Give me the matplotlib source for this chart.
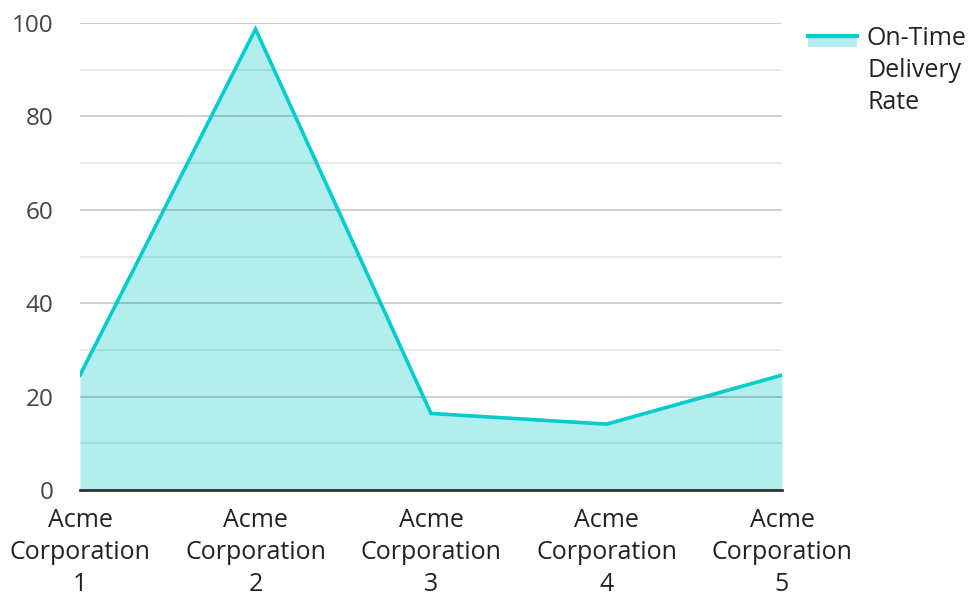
import matplotlib.pyplot as plt
from matplotlib.lines import Line2D
from matplotlib.patches import Rectangle

plt.rcParams['font.family'] = ['Open Sans', 'DejaVu Sans']

companies = ['Acme\nCorporation\n1', 'Acme\nCorporation\n2', 'Acme\nCorporation\n3',
             'Acme\nCorporation\n4', 'Acme\nCorporation\n5']
on_time_rate = [24.6, 98.7, 16.4, 14.1, 24.6]
y_ticks = [0, 20, 40, 60, 80, 100]

line_color = '#00cccc'
fill_color = '#b2eeee'

fig = plt.figure(figsize=(9.68, 5.94), dpi=100)
ax = fig.add_axes([80 / 968, 1 - 490 / 594, 702 / 968, 467 / 594])

x = list(range(len(companies)))
ax.fill_between(x, on_time_rate, 0, color=fill_color, lw=0, zorder=1)
ax.plot(x, on_time_rate, color=line_color, lw=2.6, zorder=3, solid_joinstyle='miter')

ax.set_xlim(0, len(companies) - 1)
ax.set_ylim(0, 100)
ax.set_xticks(x)
ax.set_xticklabels(companies, fontsize=18, color='#222222', linespacing=1.38)
ax.set_yticks(y_ticks)
ax.set_yticks([10, 30, 50, 70, 90], minor=True)
ax.tick_params(axis='y', which='both', length=0, pad=19, labelsize=17.5, labelcolor='#444444')
ax.tick_params(axis='x', length=0, pad=13)

ax.grid(axis='y', which='major', color='black', alpha=0.22, lw=1.2, zorder=2)
ax.grid(axis='y', which='minor', color='black', alpha=0.1, lw=1.2, zorder=2)
ax.set_axisbelow(False)
for side in ['left', 'right', 'top']:
    ax.spines[side].set_visible(False)
ax.spines['bottom'].set_color('#333333')
ax.spines['bottom'].set_linewidth(2)
ax.spines['bottom'].set_zorder(4)

# legend drawn by hand: fill swatch with line across its top
fig.add_artist(Rectangle((808 / 968, 1 - 47 / 594), 49 / 968, 13 / 594,
                         transform=fig.transFigure, color=fill_color, lw=0))
fig.add_artist(Line2D([808 / 968, 857 / 968], [1 - 35.5 / 594, 1 - 35.5 / 594],
                      transform=fig.transFigure, color=line_color, lw=3))
fig.text(867 / 968, 1 - 26 / 594, 'On-Time\nDelivery\nRate', fontsize=18,
         color='#222222', va='top', ha='left', linespacing=1.38)

fig.savefig('out.png', dpi=100)
